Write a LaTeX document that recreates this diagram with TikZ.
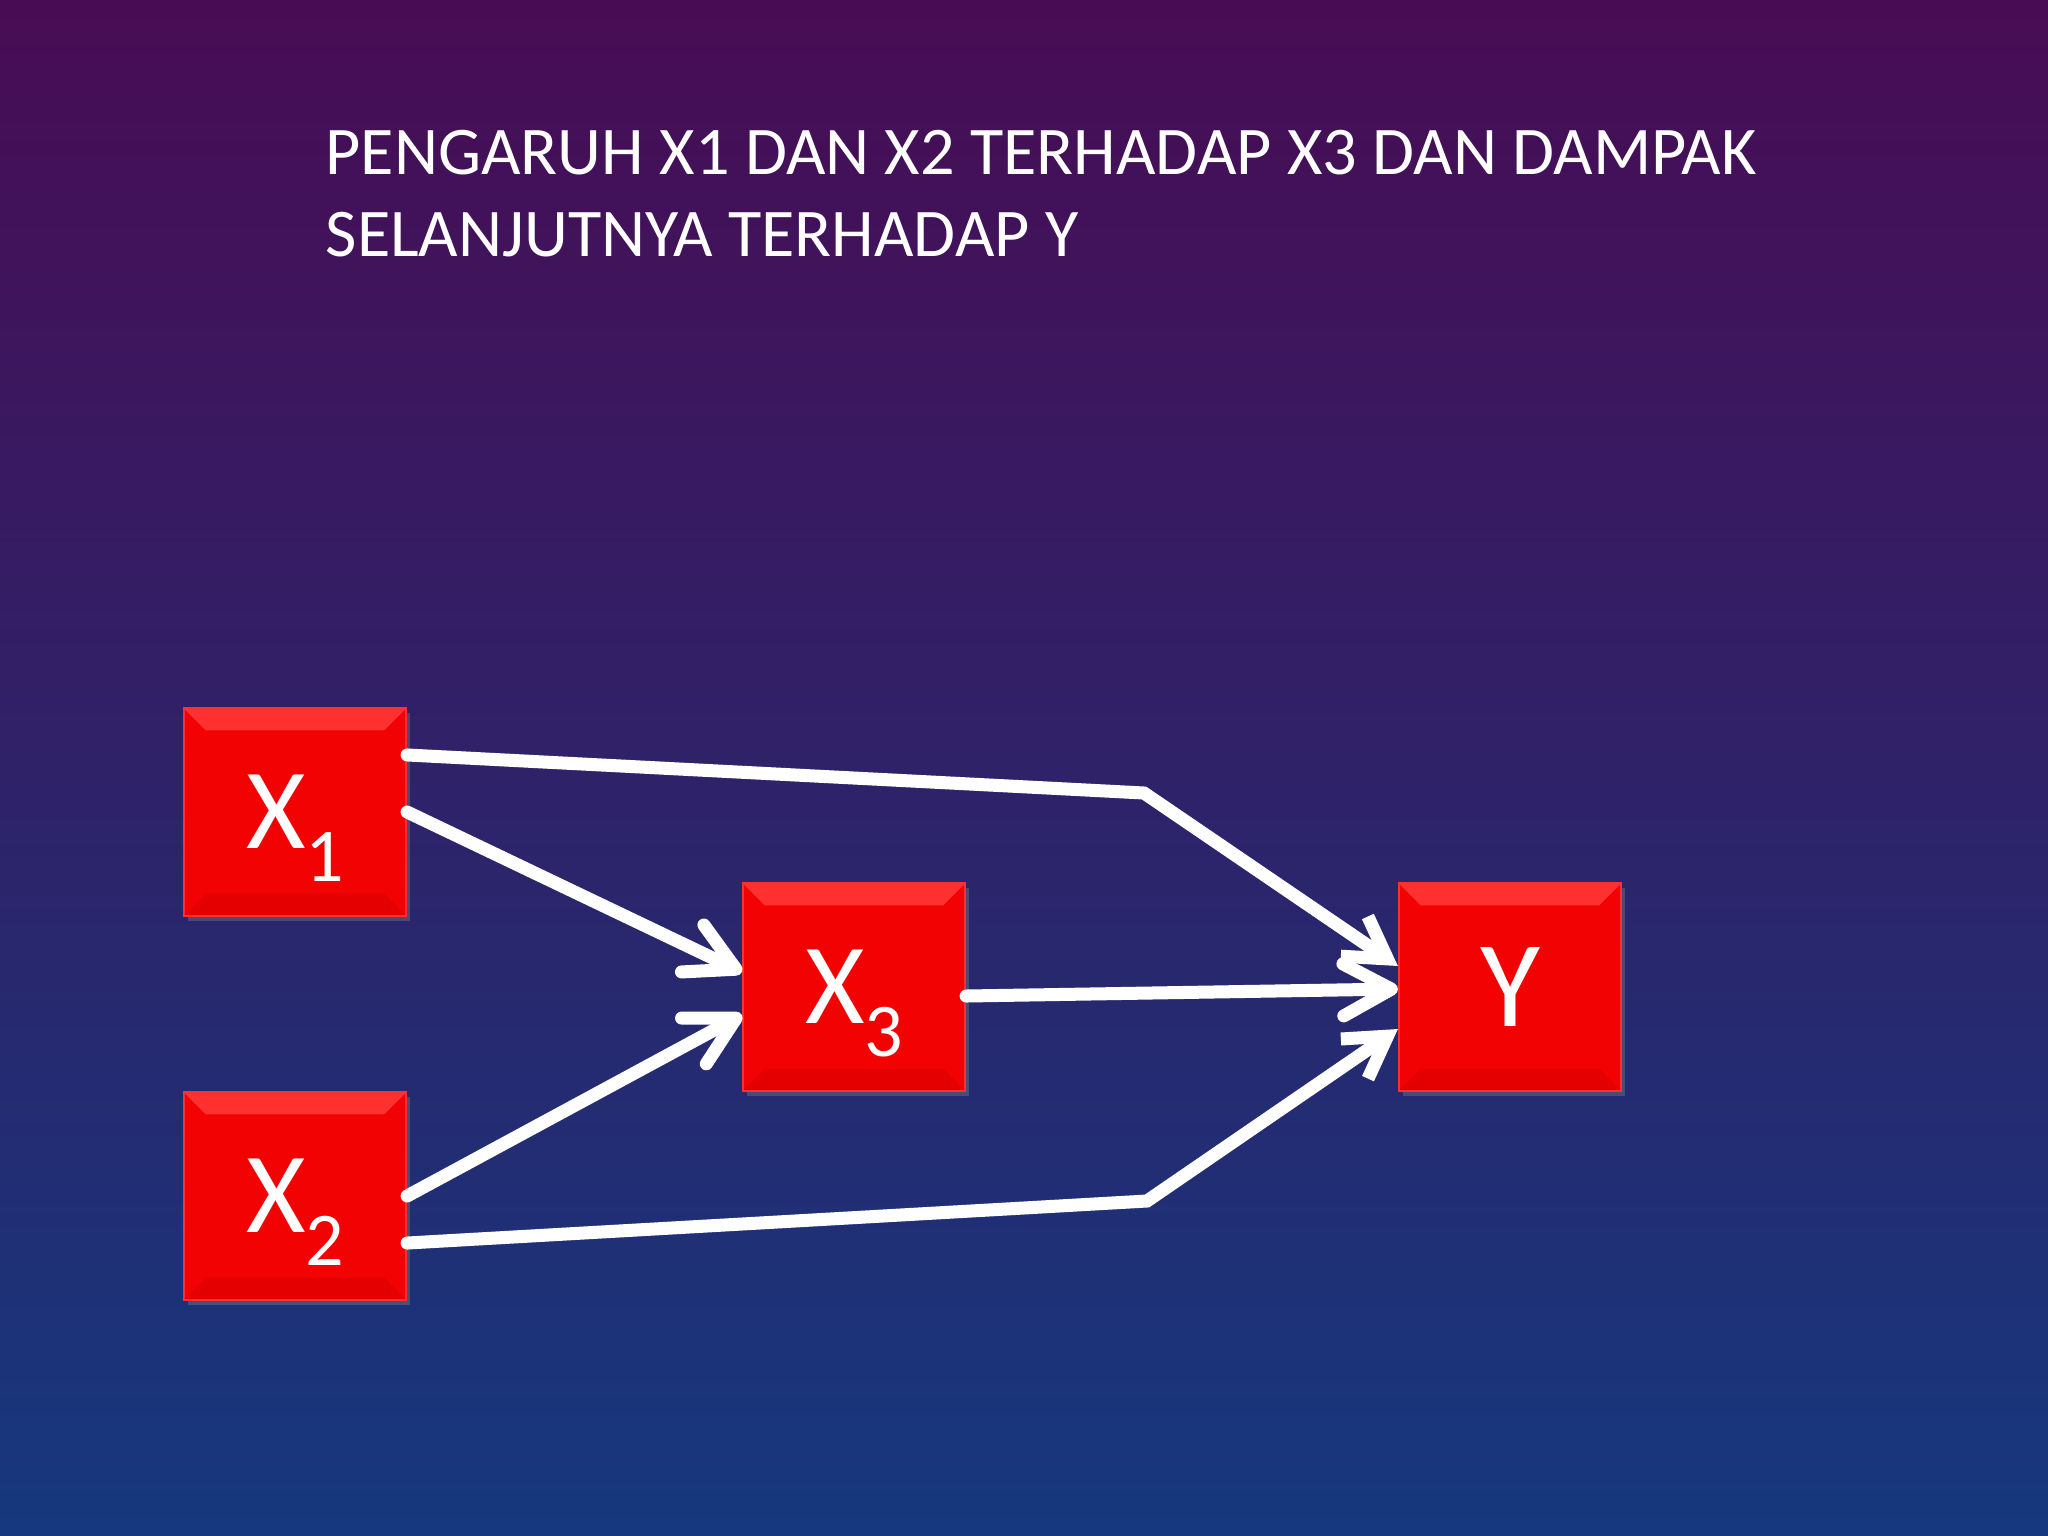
\documentclass[tikz,border=0pt]{standalone}
\usepackage{fontspec}
\setmainfont{Carlito}
\usepackage{tikz}
\usetikzlibrary{arrows.meta,shadows}
\newcommand{\linecolor}{white}
\newcommand{\linethick}{3.7pt}
\newcommand{\bev}{2.2mm}
\newcommand{\subidx}[1]{\raisebox{-9.3pt}{\fontsize{21.6}{24}\selectfont #1}}
\definecolor{bgtop}{RGB}{72,12,84}
\definecolor{bgmid}{RGB}{56,30,112}
\definecolor{bgbot}{RGB}{22,56,126}
\definecolor{boxred}{RGB}{242,2,2}
\definecolor{boxlight}{RGB}{255,48,48}
\definecolor{boxdark}{RGB}{228,0,0}
\tikzset{
  varbox/.style={rectangle, fill=boxred, draw=boxlight, line width=0.6pt,
    minimum width=2.22cm, minimum height=2.07cm, inner sep=0pt,
    text=white, font=\fontsize{32.6}{36}\selectfont, text height=21pt, text depth=0pt,
    drop shadow={opacity=0.4, shadow xshift=0.4mm, shadow yshift=-0.5mm},
    path picture={
      \fill[boxlight] (path picture bounding box.north west) -- (path picture bounding box.north east)
        -- ([shift={(-\bev,-\bev)}]path picture bounding box.north east)
        -- ([shift={(\bev,-\bev)}]path picture bounding box.north west) -- cycle;
      \fill[boxdark] (path picture bounding box.south west) -- (path picture bounding box.south east)
        -- ([shift={(-\bev,\bev)}]path picture bounding box.south east)
        -- ([shift={(\bev,\bev)}]path picture bounding box.south west) -- cycle;
    }},
  arrowline/.style={draw=\linecolor, line width=\linethick, line cap=round, line join=miter},
  bigtip/.style={-{Straight Barb[length=4.8mm, width=5.2mm, round]}},
  smalltip/.style={-{Straight Barb[length=4mm, width=4.8mm]}},
  titletext/.style={text=white, align=left, inner sep=0pt, font=\fontsize{19.4}{23.3}\selectfont}
}

\begin{document}
\begin{tikzpicture}[x=0.01cm, y=-0.01cm]
%background
\shade[top color=bgtop, middle color=bgmid, bottom color=bgbot] (0,0) rectangle (2048,1536);
\useasboundingbox (0,0) rectangle (2048,1536);
%title
\node[titletext, anchor=north west] (title) at (325,130) {PENGARUH X1 DAN X2 TERHADAP X3 DAN DAMPAK\\SELANJUTNYA TERHADAP Y};
%boxes
\node[varbox] (x1) at (295,812) {X\subidx{1}};
\node[varbox] (x2) at (295,1196) {X\subidx{2}};
\node[varbox] (x3) at (854,987) {X\subidx{3}};
\node[varbox, font=\fontsize{35}{38}\selectfont, text height=22.5pt] (y) at (1510,987) {Y};
\coordinate (b1) at (1144,793);
\coordinate (b2) at (1147,1201);
%arrows
\draw[arrowline, smalltip] ([yshift=0.57cm]x1.east) -- (b1) -- ([yshift=0.21cm]y.west);
\draw[arrowline, bigtip] (x1.east) -- ([yshift=0.15cm]x3.west);
\draw[arrowline, bigtip] (x2.east) -- ([yshift=-0.28cm]x3.west);
\draw[arrowline, bigtip] ([yshift=-0.09cm]x3.east) -- ([yshift=-0.02cm]y.west);
\draw[arrowline, smalltip] ([yshift=-0.47cm]x2.east) -- (b2) -- ([yshift=-0.42cm]y.west);
\end{tikzpicture}
\end{document}
